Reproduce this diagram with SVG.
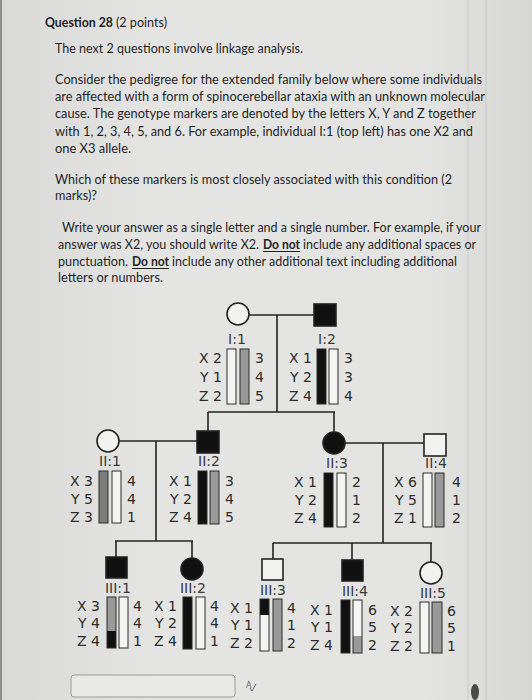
<svg xmlns="http://www.w3.org/2000/svg" width="532" height="700" viewBox="0 0 532 700">
<defs>
<style>
.q{font-family:Lato,"Open Sans","Liberation Sans",sans-serif;font-size:13px;fill:#1f1f1f}
.b{font-weight:bold}
.p{font-family:"DejaVu Sans","Liberation Sans",sans-serif;font-size:14px;fill:#2b2b2b}
.lbl{font-family:"DejaVu Sans","Liberation Sans",sans-serif;font-size:14px;fill:#3a3a3a;text-anchor:middle}
.r{text-anchor:end}
.ln{stroke:#222;stroke-width:1.6;fill:none}
.sym{stroke:#222;stroke-width:1.6}
.aff{fill:#111}
.un{fill:#f2f2f0}
.bar{stroke:#2a2a2a;stroke-width:1}
.w{fill:#f4f4f2}
.k{fill:#111}
.g{fill:#999}
.dg{fill:#7c7c7c}
</style>
<linearGradient id="bg" x1="0" y1="0" x2="1" y2="0">
<stop offset="0" stop-color="#d9dad8"/>
<stop offset="0.3" stop-color="#e4e5e3"/>
<stop offset="0.8" stop-color="#e3e4e2"/>
<stop offset="1" stop-color="#d6d7d5"/>
</linearGradient>
</defs>
<rect x="0" y="0" width="532" height="700" fill="url(#bg)"/>
<rect x="0" y="0" width="2" height="700" fill="#8c8c8c"/>
<line x1="468" y1="0" x2="468" y2="700" stroke="#c9cac8" stroke-width="1"/>
<line x1="486" y1="0" x2="486" y2="700" stroke="#c4c5c3" stroke-width="1"/>
<ellipse cx="475" cy="692" rx="4" ry="8" fill="#4a4a4a"/>

<g id="question">
<text class="q b" x="45" y="27" textLength="68" lengthAdjust="spacingAndGlyphs">Question 28</text>
<text class="q" x="116" y="27" textLength="51" lengthAdjust="spacingAndGlyphs">(2 points)</text>
<text class="q" x="55" y="53" textLength="248" lengthAdjust="spacingAndGlyphs">The next 2 questions involve linkage analysis.</text>
<text class="q" x="55" y="84" textLength="427" lengthAdjust="spacingAndGlyphs">Consider the pedigree for the extended family below where some individuals</text>
<text class="q" x="55" y="101" textLength="430" lengthAdjust="spacingAndGlyphs">are affected with a form of spinocerebellar ataxia with an unknown molecular</text>
<text class="q" x="55" y="118" textLength="421" lengthAdjust="spacingAndGlyphs">cause. The genotype markers are denoted by the letters X, Y and Z together</text>
<text class="q" x="55" y="136" textLength="418" lengthAdjust="spacingAndGlyphs">with 1, 2, 3, 4, 5, and 6. For example, individual I:1 (top left) has one X2 and</text>
<text class="q" x="55" y="153" textLength="76" lengthAdjust="spacingAndGlyphs">one X3 allele.</text>
<text class="q" x="55" y="184" textLength="397" lengthAdjust="spacingAndGlyphs">Which of these markers is most closely associated with this condition (2</text>
<text class="q" x="55" y="200" textLength="42" lengthAdjust="spacingAndGlyphs">marks)?</text>
<text class="q" x="62" y="232" textLength="419" lengthAdjust="spacingAndGlyphs">Write your answer as a single letter and a single number. For example, if your</text>
<text class="q" x="58" y="249" textLength="201" lengthAdjust="spacingAndGlyphs">answer was X2, you should write X2.</text>
<text class="q b" x="263" y="249" textLength="37" lengthAdjust="spacingAndGlyphs">Do not</text>
<line x1="263" y1="251.5" x2="300" y2="251.5" stroke="#1f1f1f" stroke-width="1"/>
<text class="q" x="303" y="249" textLength="173" lengthAdjust="spacingAndGlyphs">include any additional spaces or</text>
<text class="q" x="58" y="266" textLength="70" lengthAdjust="spacingAndGlyphs">punctuation.</text>
<text class="q b" x="132" y="266" textLength="37" lengthAdjust="spacingAndGlyphs">Do not</text>
<line x1="132" y1="268.5" x2="169" y2="268.5" stroke="#1f1f1f" stroke-width="1"/>
<text class="q" x="172" y="266" textLength="285" lengthAdjust="spacingAndGlyphs">include any other additional text including additional</text>
<text class="q" x="58" y="282" textLength="105" lengthAdjust="spacingAndGlyphs">letters or numbers.</text>
</g>

<g id="connectors">
<line class="ln" x1="249" y1="315" x2="314" y2="315"/>
<line class="ln" x1="277" y1="315" x2="277" y2="412"/>
<line class="ln" x1="208" y1="412" x2="335" y2="412"/>
<line class="ln" x1="208" y1="412" x2="208" y2="431"/>
<line class="ln" x1="334" y1="412" x2="334" y2="432"/>
<line class="ln" x1="119" y1="441" x2="197" y2="441"/>
<line class="ln" x1="156" y1="441" x2="156" y2="541"/>
<line class="ln" x1="115" y1="541" x2="193" y2="541"/>
<line class="ln" x1="116" y1="541" x2="116" y2="557"/>
<line class="ln" x1="192" y1="541" x2="192" y2="558"/>
<line class="ln" x1="345" y1="443" x2="424" y2="443"/>
<line class="ln" x1="383" y1="443" x2="383" y2="543"/>
<line class="ln" x1="273" y1="543" x2="432" y2="543"/>
<line class="ln" x1="273" y1="543" x2="273" y2="559"/>
<line class="ln" x1="352" y1="543" x2="352" y2="560"/>
<line class="ln" x1="431" y1="543" x2="431" y2="562"/>
</g>

<g id="I1">
<circle class="sym un" cx="238" cy="314" r="11"/>
<text class="lbl" x="237" y="344">I:1</text>
<rect class="bar w" x="227" y="349" width="9" height="55"/>
<rect class="bar g" x="240" y="349" width="9" height="55"/>
<text class="p r" x="222" y="363">X 2</text><text class="p r" x="222" y="382">Y 1</text><text class="p r" x="222" y="401">Z 2</text>
<text class="p" x="255" y="363">3</text><text class="p" x="255" y="382">4</text><text class="p" x="255" y="401">5</text>
</g>

<g id="I2">
<rect class="sym aff" x="314" y="304" width="22" height="22"/>
<text class="lbl" x="327" y="344">I:2</text>
<rect class="bar k" x="317" y="349" width="9" height="55"/>
<rect class="bar w" x="329" y="349" width="9" height="55"/>
<text class="p r" x="312" y="363">X 1</text><text class="p r" x="312" y="382">Y 2</text><text class="p r" x="312" y="401">Z 4</text>
<text class="p" x="344" y="363">3</text><text class="p" x="344" y="382">3</text><text class="p" x="344" y="401">4</text>
</g>

<g id="II1">
<circle class="sym un" cx="108" cy="441" r="11"/>
<text class="lbl" x="110" y="466">II:1</text>
<rect class="bar dg" x="99" y="471" width="9" height="52"/>
<rect class="bar w" x="112" y="471" width="9" height="52"/>
<text class="p r" x="93" y="486">X 3</text><text class="p r" x="93" y="504">Y 5</text><text class="p r" x="93" y="522">Z 3</text>
<text class="p" x="127" y="486">4</text><text class="p" x="127" y="504">4</text><text class="p" x="127" y="522">1</text>
</g>

<g id="II2">
<rect class="sym aff" x="197" y="431" width="22" height="22"/>
<text class="lbl" x="209" y="466">II:2</text>
<rect class="bar k" x="198" y="471" width="9" height="53"/>
<rect class="bar g" x="210" y="471" width="9" height="53"/>
<text class="p r" x="192" y="486">X 1</text><text class="p r" x="192" y="504">Y 2</text><text class="p r" x="192" y="522">Z 4</text>
<text class="p" x="225" y="486">3</text><text class="p" x="225" y="504">4</text><text class="p" x="225" y="522">5</text>
</g>

<g id="II3">
<circle class="sym aff" cx="334" cy="443" r="11"/>
<text class="lbl" x="337" y="468">II:3</text>
<rect class="bar k" x="324" y="473" width="9" height="54"/>
<rect class="bar w" x="337" y="473" width="9" height="54"/>
<text class="p r" x="317" y="487">X 1</text><text class="p r" x="317" y="505">Y 2</text><text class="p r" x="317" y="523">Z 4</text>
<text class="p" x="352" y="487">2</text><text class="p" x="352" y="505">1</text><text class="p" x="352" y="523">2</text>
</g>

<g id="II4">
<rect class="sym un" x="424" y="434" width="22" height="22"/>
<text class="lbl" x="436" y="468">II:4</text>
<rect class="bar w" x="423" y="473" width="9" height="54"/>
<rect class="bar g" x="435" y="473" width="9" height="54"/>
<text class="p r" x="417" y="487">X 6</text><text class="p r" x="417" y="505">Y 5</text><text class="p r" x="417" y="523">Z 1</text>
<text class="p" x="452" y="487">4</text><text class="p" x="452" y="505">1</text><text class="p" x="452" y="523">2</text>
</g>

<g id="III1">
<rect class="sym aff" x="106" y="557" width="21" height="21"/>
<text class="lbl" x="118" y="593">III:1</text>
<rect class="g" x="107" y="597" width="9" height="34"/>
<rect class="k" x="107" y="631" width="9" height="17"/>
<rect class="bar" x="107" y="597" width="9" height="51" fill="none"/>
<rect class="bar w" x="119" y="597" width="9" height="51"/>
<text class="p r" x="100" y="611">X 3</text><text class="p r" x="100" y="628">Y 4</text><text class="p r" x="100" y="646">Z 4</text>
<text class="p" x="133" y="611">4</text><text class="p" x="133" y="628">4</text><text class="p" x="133" y="646">1</text>
</g>

<g id="III2">
<circle class="sym aff" cx="192" cy="569" r="11"/>
<text class="lbl" x="193" y="593">III:2</text>
<rect class="bar k" x="183" y="597" width="9" height="52"/>
<rect class="bar w" x="196" y="597" width="9" height="52"/>
<text class="p r" x="177" y="611">X 1</text><text class="p r" x="177" y="628">Y 2</text><text class="p r" x="177" y="646">Z 4</text>
<text class="p" x="210" y="611">4</text><text class="p" x="210" y="628">4</text><text class="p" x="210" y="646">1</text>
</g>

<g id="III3">
<rect class="sym un" x="262" y="559" width="21" height="21"/>
<text class="lbl" x="273" y="595">III:3</text>
<rect class="w" x="260" y="599" width="9" height="52"/>
<rect class="k" x="260" y="599" width="9" height="16"/>
<rect class="bar" x="260" y="599" width="9" height="52" fill="none"/>
<rect class="bar g" x="273" y="599" width="9" height="52"/>
<text class="p r" x="253" y="613">X 1</text><text class="p r" x="253" y="630">Y 1</text><text class="p r" x="253" y="648">Z 2</text>
<text class="p" x="287" y="613">4</text><text class="p" x="287" y="630">1</text><text class="p" x="287" y="648">2</text>
</g>

<g id="III4">
<rect class="sym aff" x="342" y="560" width="21" height="21"/>
<text class="lbl" x="355" y="596">III:4</text>
<rect class="bar k" x="341" y="600" width="9" height="53"/>
<rect class="w" x="353" y="600" width="9" height="36"/>
<rect class="g" x="353" y="636" width="9" height="17"/>
<rect class="bar" x="353" y="600" width="9" height="53" fill="none"/>
<text class="p r" x="333" y="615">X 1</text><text class="p r" x="333" y="632">Y 1</text><text class="p r" x="333" y="650">Z 4</text>
<text class="p" x="368" y="615">6</text><text class="p" x="368" y="632">5</text><text class="p" x="368" y="650">2</text>
</g>

<g id="III5">
<circle class="sym un" cx="431" cy="573" r="11"/>
<text class="lbl" x="433" y="598">III:5</text>
<rect class="bar w" x="420" y="602" width="9" height="51"/>
<rect class="bar g" x="432" y="602" width="10" height="51"/>
<text class="p r" x="413" y="616">X 2</text><text class="p r" x="413" y="633">Y 2</text><text class="p r" x="413" y="651">Z 2</text>
<text class="p" x="447" y="616">6</text><text class="p" x="447" y="633">5</text><text class="p" x="447" y="651">1</text>
</g>

<g id="answer">
<rect x="71" y="675" width="164" height="22" rx="3" fill="#e8e9e7" stroke="#9a9a9a" stroke-width="1"/>
<text x="246" y="688" font-family="DejaVu Sans,sans-serif" font-size="8" fill="#666">A</text>
<path d="M250 688 L252 691 L256 684" stroke="#666" stroke-width="1" fill="none"/>
</g>
</svg>
